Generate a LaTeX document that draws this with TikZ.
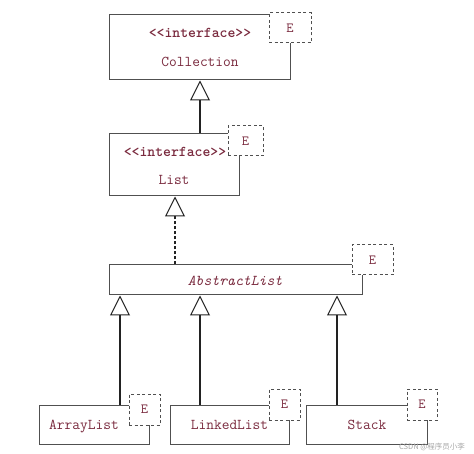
\documentclass[tikz,border=0pt]{standalone}
\usepackage{fontspec}
\newfontfamily\cjk{Noto Sans CJK SC}
\usetikzlibrary{arrows.meta}
\definecolor{txt}{HTML}{7A2A3E}
\definecolor{edge}{HTML}{505050}
\definecolor{lnk}{HTML}{222222}
\begin{document}
\begin{tikzpicture}[x=1pt,y=-1pt,
  box/.style={draw=edge,line width=1pt,fill=white,rectangle,inner sep=0pt},
  ebox/.style={draw=edge,dash pattern=on 3pt off 2.5pt,line width=1pt,fill=white,rectangle,inner sep=0pt,text=txt,font=\ttfamily\fontsize{14}{16}\selectfont},
  lbl/.style={text=txt,font=\ttfamily\fontsize{15}{17}\selectfont,inner sep=0pt,text height=10pt,text depth=1pt},
  stereo/.style={lbl,font=\ttfamily\bfseries\fontsize{15}{17}\selectfont},
  genl/.style={draw=lnk,line width=1.8pt,-{Triangle[open,length=20pt,width=20pt,line width=1pt]}},
  realz/.style={genl,dash pattern=on 3pt off 2pt}
]
\useasboundingbox (0,0) rectangle (474,454);
% main boxes
\node[box,minimum width=181pt,minimum height=65pt] (coll) at (199.5,47.5) {};
\node[box,minimum width=130pt,minimum height=62pt] (list) at (174,165) {};
\node[box,minimum width=253pt,minimum height=30pt] (abs) at (235.5,280) {};
\node[box,minimum width=110pt,minimum height=39pt] (arr) at (94,424.5) {};
\node[box,minimum width=119pt,minimum height=39pt] (lnkl) at (229.5,424.5) {};
\node[box,minimum width=121pt,minimum height=39pt] (stk) at (366.5,424.5) {};
% labels
\node[stereo] (collS) at (200,33) {<<interface>>};
\node[lbl] (collN) at (200,62) {Collection};
\node[stereo] (listS) at (175,152) {<<interface>>};
\node[lbl] (listN) at (174,180) {List};
\node[lbl,font=\ttfamily\itshape\fontsize{15}{17}\selectfont] (absN) at (235,281) {AbstractList};
\node[lbl] (arrN) at (84,425) {ArrayList};
\node[lbl] (lnkN) at (229.5,425) {LinkedList};
\node[lbl] (stkN) at (367,425) {Stack};
% E boxes
\node[ebox,minimum width=42pt,minimum height=30pt] (collE) at (290,28) {E};
\node[ebox,minimum width=35pt,minimum height=30pt] (listE) at (245.5,141) {E};
\node[ebox,minimum width=41pt,minimum height=30pt] (absE) at (372.5,260) {E};
\node[ebox,minimum width=31pt,minimum height=31pt] (arrE) at (144.5,409.5) {E};
\node[ebox,minimum width=31pt,minimum height=31pt] (lnkE) at (284.5,404.5) {E};
\node[ebox,minimum width=30pt,minimum height=31pt] (stkE) at (422,404.5) {E};
% connectors
\coordinate (xA) at (120,0);
\coordinate (xB) at (200,0);
\coordinate (xC) at (337,0);
\coordinate (xD) at (175,0);
\draw[genl] (list.north -| xB) -- (coll.south -| xB);
\draw[realz] (abs.north -| xD) -- (list.south -| xD);
\draw[genl] (arr.north -| xA) -- (abs.south -| xA);
\draw[genl] (lnkl.north -| xB) -- (abs.south -| xB);
\draw[genl] (stk.north -| xC) -- (abs.south -| xC);
% watermark
\node[text=black!35,font=\cjk\fontsize{7.5}{9}\selectfont,inner sep=0pt] (wm) at (432,447) {CSDN @程序员小李};
\end{tikzpicture}
\end{document}
